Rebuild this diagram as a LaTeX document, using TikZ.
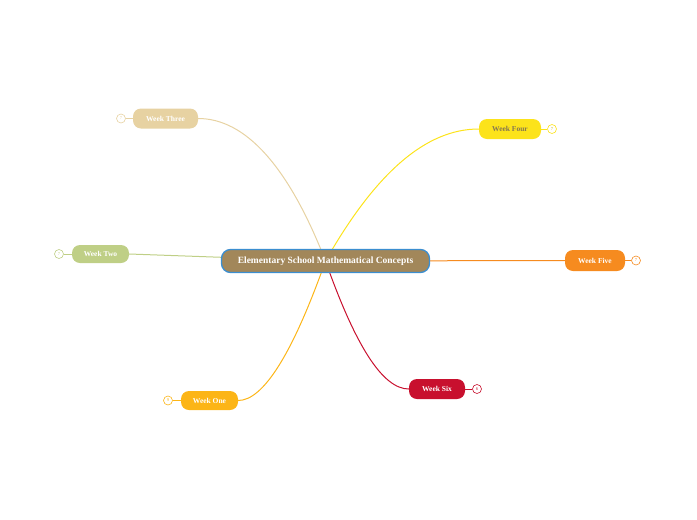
\documentclass[tikz,border=0pt]{standalone}
\usepackage{fontspec}
\setmainfont{Liberation Serif}
\usetikzlibrary{backgrounds}
\usetikzlibrary{positioning}

\definecolor{rootfill}{HTML}{A2875A}
\definecolor{rootline}{HTML}{3B8ED0}
\definecolor{wone}{HTML}{FCB517}
\definecolor{wtwo}{HTML}{BFCF86}
\definecolor{wthree}{HTML}{E7D2A2}
\definecolor{wfour}{HTML}{FCE31B}
\definecolor{wfive}{HTML}{F68B1F}
\definecolor{wsix}{HTML}{C8102E}
\definecolor{fourtext}{HTML}{857650}

\begin{document}
\begin{tikzpicture}[
        x=1pt, y=-1pt,
        central/.style={rounded corners=9pt, fill=rootfill, draw=rootline, line width=1.3pt,
            text=white, font=\bfseries\fontsize{9.5}{10}\selectfont,
            minimum width=208pt, minimum height=23pt},
        topic/.style={rounded corners=8pt, text=white, font=\bfseries\fontsize{7.5}{8}\selectfont,
            minimum height=20pt, inner sep=0pt},
        count/.style={circle, draw, fill=white, minimum size=9pt, inner sep=0pt,
            line width=.6pt, font=\fontsize{4.5}{5}\selectfont},
        branch/.style={line width=1pt},
    ]

    \useasboundingbox (0,0) rectangle (697,520);

    % Central topic
    \node[central] (Root) at (325.5,261) {Elementary School Mathematical Concepts};

    % Week nodes
    \node[topic, fill=wthree, minimum width=65pt] (W3) at (165.5,118.5) {Week Three};
    \node[topic, fill=wfour, text=fourtext, minimum width=62pt] (W4) at (510,129) {Week Four};
    \node[topic, fill=wtwo, minimum width=57pt, minimum height=18pt] (W2) at (100.5,254) {Week Two};
    \node[topic, fill=wfive, minimum width=60pt, minimum height=21pt] (W5) at (595,260.5) {Week Five};
    \node[topic, fill=wone, minimum width=57pt, minimum height=19pt] (W1) at (209.5,400.5) {Week One};
    \node[topic, fill=wsix, minimum width=56pt] (W6) at (437,389) {Week Six};

    % Count circles
    \node[count, draw=wthree, text=wthree, left=7pt of W3] (N3) {7};
    \node[count, draw=wfour, text=wfour!80!black, right=6pt of W4] (N4) {7};
    \node[count, draw=wtwo, text=wtwo, left=8pt of W2] (N2) {7};
    \node[count, draw=wfive, text=wfive, right=6pt of W5] (N5) {7};
    \node[count, draw=wone, text=wone, left=8pt of W1] (N1) {9};
    \node[count, draw=wsix, text=wsix, right=7pt of W6] (N6) {6};

    \draw[branch, wthree] (N3) -- (W3);
    \draw[branch, wfour] (W4) -- (N4);
    \draw[branch, wtwo] (N2) -- (W2);
    \draw[branch, wfive] (W5) -- (N5);
    \draw[branch, wone] (N1) -- (W1);
    \draw[branch, wsix] (W6) -- (N6);

    % Branches to the central topic
    \begin{scope}[on background layer]
        \draw[branch, wthree] (W3.east) .. controls +(47,0) and +(-37,-95) .. (Root.center);
        \draw[branch, wfour] (W4.west) .. controls +(-53,0) and +(50,-88) .. (Root.center);
        \draw[branch, wtwo] (W2.east) -- (Root.center);
        \draw[branch, wfive] (Root.center) -- (W5.west);
        \draw[branch, wone] (W1.east) .. controls +(25,0) and +(-33,93) .. (Root.center);
        \draw[branch, wsix] (W6.west) .. controls +(-26,0) and +(30,85) .. (Root.center);
    \end{scope}
\end{tikzpicture}
\end{document}
